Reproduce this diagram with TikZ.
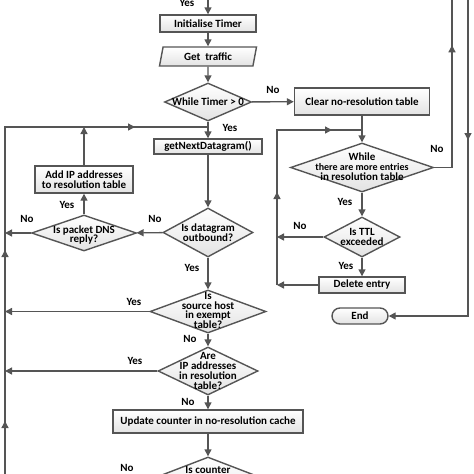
\documentclass[tikz,border=0pt]{standalone}
\usepackage{fontspec}
\setmainfont{Carlito}
\usetikzlibrary{arrows.meta, shapes.geometric, decorations.markings}

\definecolor{linegray}{HTML}{555555}

\begin{document}
\begin{tikzpicture}[x=1pt, y=-1pt,
    font=\fontsize{11}{9.8}\selectfont\bfseries,
    proc/.style={rectangle, draw=linegray, line width=1.4pt, top color=white, bottom color=gray!22, inner sep=1pt},
    io/.style={trapezium, trapezium left angle=70, trapezium right angle=110, trapezium stretches body,
               draw=linegray, line width=1.4pt, top color=white, bottom color=gray!22, inner sep=1pt},
    decide/.style={diamond, draw=linegray, line width=1.4pt, top color=white, bottom color=gray!22, inner sep=0pt},
    term/.style={rectangle, rounded corners=8pt, draw=linegray, line width=1.4pt, top color=white, bottom color=gray!22},
    Arr/.style={draw=linegray, line width=1.4pt, -{Triangle[length=7pt,width=7pt]}},
    Line/.style={draw=linegray, line width=1.4pt},
    tipat/.style={postaction={decorate, decoration={markings,
        mark=at position #1 with {\arrow{Triangle[length=7pt,width=7pt]}}}}},
    lbl/.style={inner sep=0pt},
  ]
    \useasboundingbox (0,0) rectangle (474,474);
    \clip (0,0) rectangle (474,474);

    % main column
    \coordinate (start) at (208,-4);
    \node[proc, minimum width=96, minimum height=17] (init) at (208,23.5) {Initialise Timer};
    \node[io, minimum width=97, minimum height=19] (traffic) at (208,56.5) {Get\ \ traffic};
    \node[decide, minimum width=87, minimum height=38,
          label={center:While Timer > 0}] (timer) at (208,102) {};
    \node[proc, minimum width=108, minimum height=15] (getnext) at (208,146.5) {getNextDatagram()};
    \node[decide, minimum width=90, minimum height=49,
          label={[align=center]center:{Is datagram\\outbound?}}] (outbound) at (208,232.5) {};
    \node[decide, minimum width=105, minimum height=36,
          label={[align=center, yshift=-2pt]center:{Is packet DNS\\reply?}}] (dnsreply) at (84,233) {};
    \node[proc, minimum width=98, minimum height=27, align=center] (addip) at (84,179.5)
          {Add IP addresses\\to resolution table};
    \node[decide, minimum width=116, minimum height=43,
          label={[align=center, yshift=1pt]center:{Is\\source host\\in exempt\\table?}}] (exempt) at (208,311.5) {};
    \node[decide, minimum width=100, minimum height=48,
          label={[align=center]center:{Are\\IP addresses\\in resolution\\table?}}] (inres) at (208,371) {};
    \node[proc, minimum width=190, minimum height=23] (update) at (208,421.5) {Update counter in no-resolution cache};
    \node[decide, minimum width=124, minimum height=48,
          label={[yshift=11pt]center:Is counter}] (counter) at (208,481) {};

    % right column
    \node[proc, minimum width=135, minimum height=27] (clear) at (362,101.5) {Clear no-resolution table};
    \node[decide, minimum width=143, minimum height=49,
          label={[align=center, yshift=1pt]center:{While\\{\fontsize{10}{9.8}\selectfont there are more entries}\\in resolution table}}] (more) at (362,167.5) {};
    \node[decide, minimum width=76, minimum height=40,
          label={[align=center]center:{Is TTL\\exceeded}}] (ttl) at (362,237) {};
    \node[proc, minimum width=86, minimum height=16] (delete) at (362,285) {Delete entry};
    \node[term, minimum width=56, minimum height=16] (end) at (360,316) {End};

    % loop corners
    \coordinate (lbot) at (5,478);
    \coordinate (ltop) at (5,127);
    \coordinate (ljoin) at (208,127);
    \coordinate (ipup) at (84,127);
    \coordinate (dnsno) at (5,233);
    \coordinate (exyes) at (5,311.5);
    \coordinate (resyes) at (5,371);
    \coordinate (rbot) at (277,285);
    \coordinate (rttl) at (277,237);
    \coordinate (rtop) at (277,130);
    \coordinate (rjoin) at (362,130);
    \coordinate (morecorner) at (452,167.5);
    \coordinate (moretop) at (452,-4);
    \coordinate (endtop) at (468,-4);
    \coordinate (endcorner) at (468,316);

    % connectors
    \draw[Arr] (start) -- (init);
    \draw[Arr] (init) -- (traffic);
    \draw[Arr] (traffic) -- (timer);
    \draw[Arr] (timer) -- (clear);
    \draw[Arr] (timer) -- (getnext);
    \draw[Arr] (getnext) -- (outbound);
    \draw[Arr] (outbound) -- (dnsreply);
    \draw[Arr] (dnsreply) -- (addip);
    \draw[Arr] (addip) -- (ipup);
    \draw[Arr] (dnsreply.west) -- (dnsno);
    \draw[Arr] (outbound) -- (exempt);
    \draw[Arr] (exempt.west) -- (exyes);
    \draw[Arr] (exempt) -- (inres);
    \draw[Arr] (inres.west) -- (resyes);
    \draw[Arr] (inres) -- (update);
    \draw[Arr] (update) -- (counter);
    \draw[Line, tipat=57pt, tipat=228pt, tipat=481pt] (lbot) -- (ltop) -- (ljoin);

    \draw[Arr] (clear) -- (more);
    \draw[Arr] (more) -- (ttl);
    \draw[Arr] (ttl) -- (delete);
    \draw[Arr] (ttl.west) -- (rttl);
    \draw[Arr] (delete.west) -- (rbot);
    \draw[Line, tipat=93pt, tipat=210pt] (rbot) -- (rtop) -- (rjoin);
    \draw[Line, tipat=140pt] (more.east) -- (morecorner) -- (moretop);
    \draw[Arr, tipat=144pt] (endtop) -- (endcorner) -- (end.east);

    % branch labels
    \node[lbl] (ystart) at (187,3) {Yes};
    \node[lbl] (ntimer) at (273,90) {No};
    \node[lbl] (ytimer) at (230,128) {Yes};
    \node[lbl] (nmore) at (437,149) {No};
    \node[lbl] (ymore) at (345,202) {Yes};
    \node[lbl] (nttl) at (300,226) {No};
    \node[lbl] (yttl) at (346,266) {Yes};
    \node[lbl] (ydns) at (67,205) {Yes};
    \node[lbl] (ndns) at (27,219) {No};
    \node[lbl] (nout) at (155,219) {No};
    \node[lbl] (yout) at (192,268) {Yes};
    \node[lbl] (yex) at (134,302) {Yes};
    \node[lbl] (nex) at (190,339) {No};
    \node[lbl] (yres) at (135,361) {Yes};
    \node[lbl] (nres) at (188,402) {No};
    \node[lbl] (ncount) at (127,468) {No};
\end{tikzpicture}
\end{document}
